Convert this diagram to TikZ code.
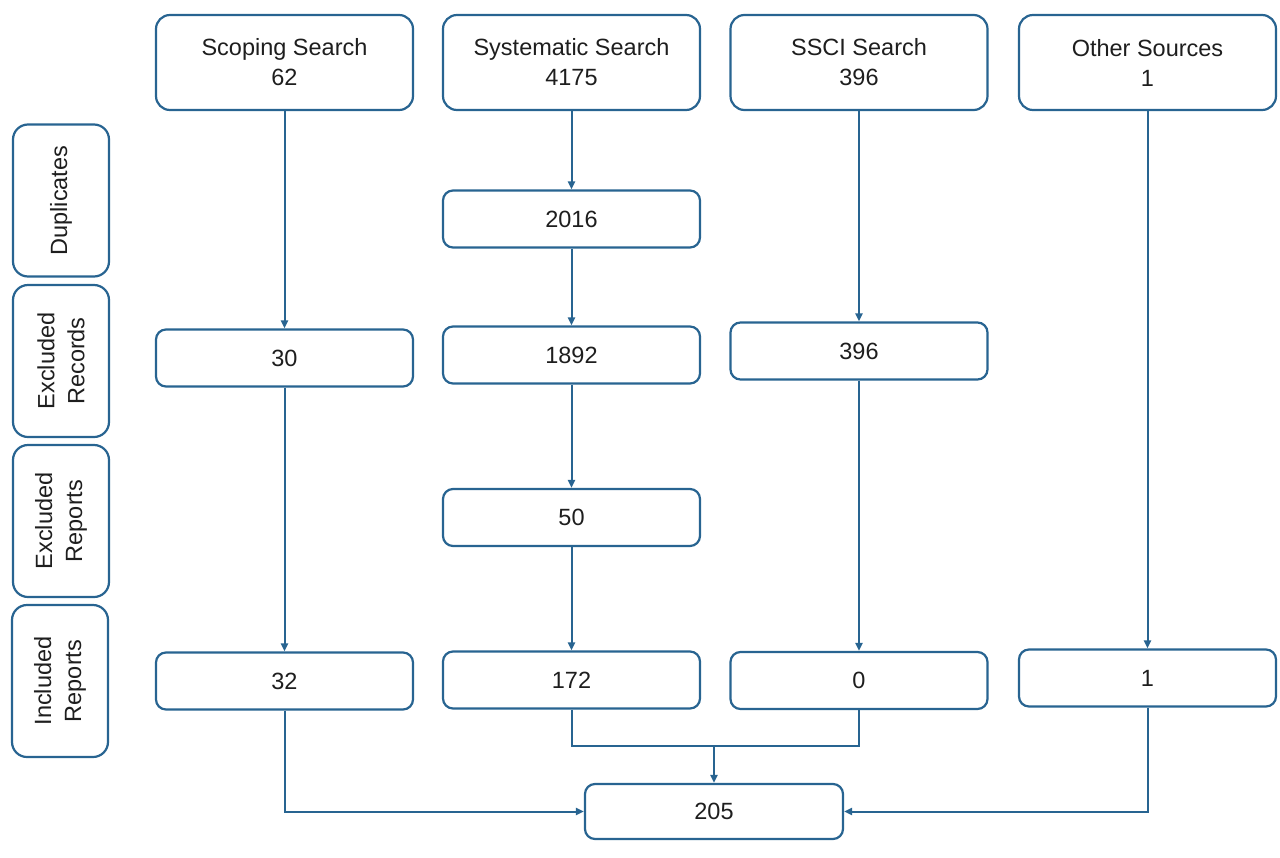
\documentclass[tikz,border=0pt]{standalone}
\usepackage{fontspec}
\setmainfont{Liberation Sans}
\usetikzlibrary{arrows.meta,calc}
\definecolor{bc}{RGB}{40,100,145}
\definecolor{tc}{RGB}{30,30,30}
\begin{document}
\begin{tikzpicture}[x=1pt,y=-1pt,
  base/.style={draw=bc, line width=2.2pt, fill=white, text=tc, align=center, inner sep=0pt,
    font=\fontsize{23.5}{30}\selectfont},
  topbox/.style={base, rounded corners=14pt, minimum width=257pt, minimum height=95pt},
  numbox/.style={base, rounded corners=10pt, minimum width=257pt, minimum height=57pt},
  sidebox/.style={base, rounded corners=15pt, minimum width=96pt, minimum height=152pt},
  sidetext/.style={rotate=90, align=center, text=tc, inner sep=0pt, font=\fontsize{23.5}{30}\selectfont},
  conn/.style={draw=bc, line width=2pt},
  arr/.style={conn, -{Triangle[length=8pt,width=7pt]}}
]
\useasboundingbox (0,0) rectangle (1280,857);

% top boxes
\node[topbox] (scop) at (284.5,62.5) {Scoping Search\\62};
\node[topbox] (syst) at (571.5,62.5) {Systematic Search\\4175};
\node[topbox] (ssci) at (859,62.5) {SSCI Search\\396};
\node[topbox] (other) at (1147.5,62.5) {Other Sources\\1};

% side labels
\node[sidebox] (ldup) at (61,200.5) {};
\node[sidetext] at (ldup) {Duplicates};
\node[sidebox] (lrec) at (61,361) {};
\node[sidetext] at (lrec) {Excluded\\Records};
\node[sidebox] (lrep) at (61,521) {};
\node[sidetext] at (lrep) {Excluded\\Reports};
\node[sidebox] (linc) at (60,681) {};
\node[sidetext] at (linc) {Included\\Reports};

% column 1
\node[numbox] (s30) at (284.5,358) {30};
\node[numbox] (s32) at (284.5,681) {32};
% column 2
\node[numbox] (d2016) at (571.5,219) {2016};
\node[numbox] (d1892) at (571.5,355) {1892};
\node[numbox] (d50) at (571.5,517.5) {50};
\node[numbox] (d172) at (571.5,680) {172};
% column 3
\node[numbox] (c396) at (859,351) {396};
\node[numbox] (c0) at (859,680.5) {0};
% column 4
\node[numbox] (o1) at (1147.5,678) {1};
% total
\node[numbox, minimum width=258pt, minimum height=55pt] (t205) at (714,811.5) {205};

% connectors
\draw[arr] (scop) -- (s30);
\draw[arr] (s30) -- (s32);
\draw[arr] (syst) -- (d2016);
\draw[arr] (d2016) -- (d1892);
\draw[arr] (d1892) -- (d50);
\draw[arr] (d50) -- (d172);
\draw[arr] (ssci) -- (c396);
\draw[arr] (c396) -- (c0);
\draw[arr] (other) -- (o1);

\coordinate (j) at (714,746);
\draw[conn] (d172.south) |- (j) -| (c0.south);
\draw[arr] (j) -- (t205.north);
\draw[arr] (s32.south) |- (t205.west);
\draw[arr] (o1.south) |- (t205.east);
\end{tikzpicture}
\end{document}
